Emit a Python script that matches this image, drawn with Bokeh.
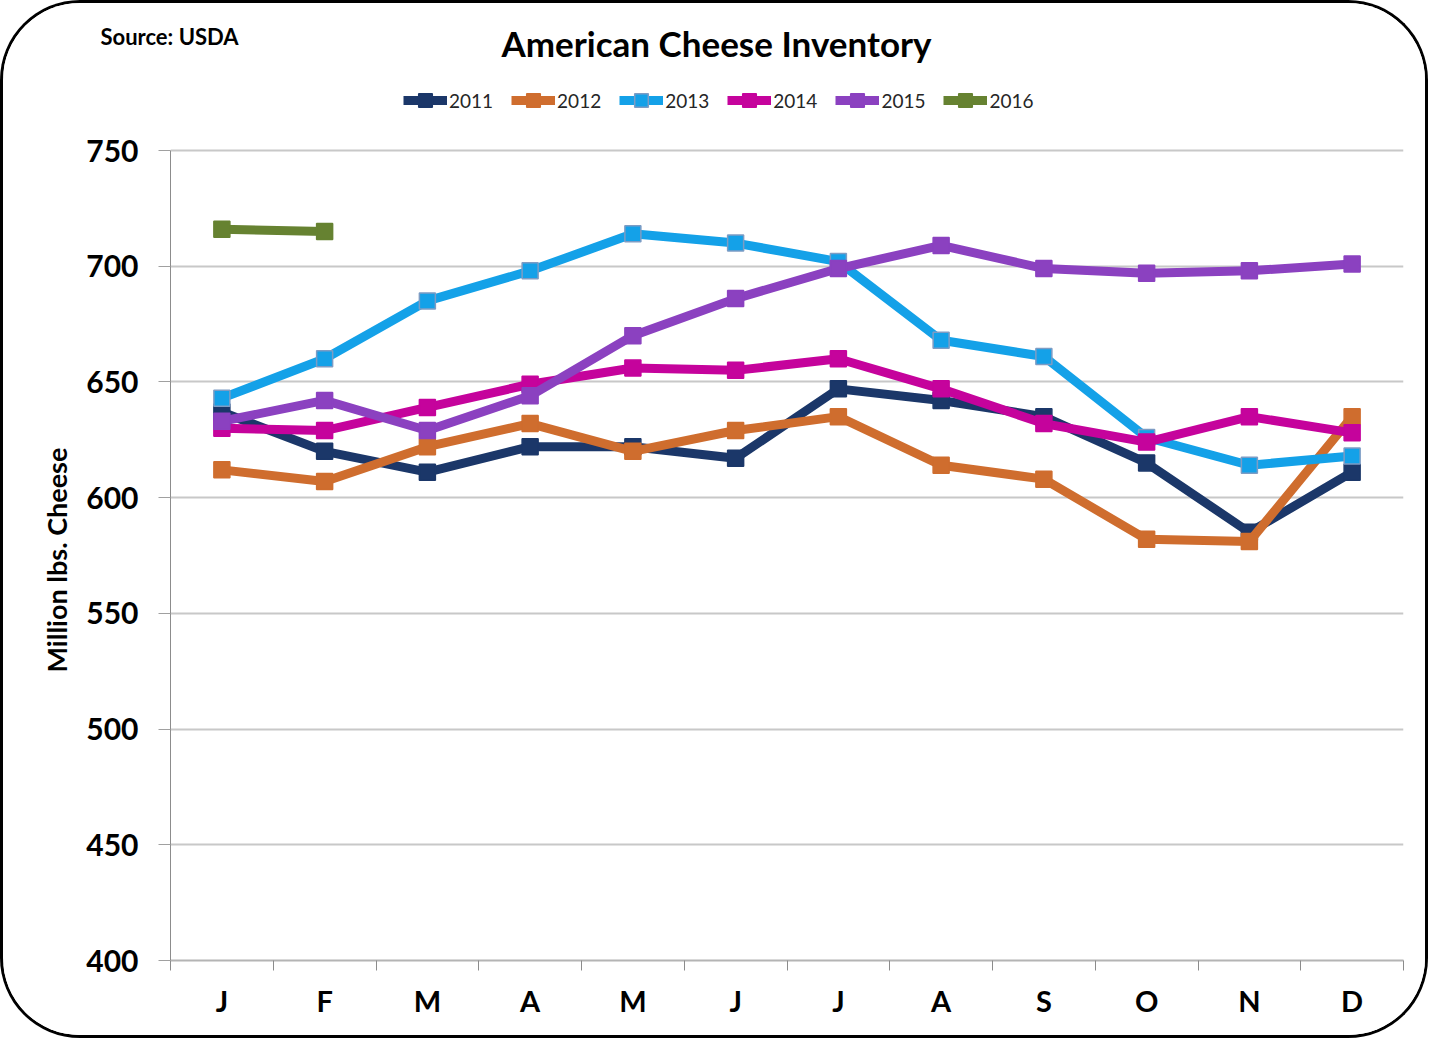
from bokeh.plotting import figure
from bokeh.layouts import column
from bokeh.models import FixedTicker, Label, Legend, LegendItem, Range1d, Title
from bokeh.embed import file_html
from bokeh.resources import INLINE

# months along the x axis (one category per month)
months = ["J", "F", "M", "A", "M", "J", "J", "A", "S", "O", "N", "D"]
x_pos = [i + 0.5 for i in range(12)]

# million lbs. of American cheese in cold storage
inv_2011 = [637, 620, 611, 622, 622, 617, 647, 642, 635, 615, 585, 611]
inv_2012 = [612, 607, 622, 632, 620, 629, 635, 614, 608, 582, 581, 635]
inv_2013 = [643, 660, 685, 698, 714, 710, 702, 668, 661, 626, 614, 618]
inv_2014 = [630, 629, 639, 649, 656, 655, 660, 647, 632, 624, 635, 628]
inv_2015 = [633, 642, 629, 644, 670, 686, 699, 709, 699, 697, 698, 701]
inv_2016 = [716, 715]

years = ["2011", "2012", "2013", "2014", "2015", "2016"]
series = [inv_2011, inv_2012, inv_2013, inv_2014, inv_2015, inv_2016]
colors = ["#1b3769", "#cf6d2e", "#14a1e8", "#c5039c", "#8b41c0", "#668231"]
edges = ["#1b3769", "#cf6d2e", "#7d9cc4", "#c5039c", "#8b41c0", "#668231"]

y_ticks = [400, 450, 500, 550, 600, 650, 700, 750]

FONT = "Lato"
W = 1428
HEAD_H = 85
MAIN_H = 953

# header strip with the source note and the title
head = figure(
    width=W, height=HEAD_H, x_range=Range1d(0, W), y_range=Range1d(HEAD_H, 0),
    x_axis_type=None, y_axis_type=None,
    output_backend="svg", toolbar_location=None, min_border=0,
)
head.frame_align = False
head.outline_line_color = None
head.grid.grid_line_color = None
head.styles = {"border": "3px solid black", "border-bottom": "none",
               "border-radius": "80px 80px 0 0", "overflow": "hidden"}
head.add_layout(Label(x=97, y=33, text="Source: USDA",
                      text_align="left", text_baseline="middle",
                      text_font=FONT, text_font_style="bold", text_font_size="22px",
                      text_color="black"))
head.add_layout(Label(x=713, y=39, text="American Cheese Inventory",
                      text_align="center", text_baseline="middle",
                      text_font=FONT, text_font_style="bold", text_font_size="35px",
                      text_color="black"))

# main chart; the frame reaches up to hold the legend
y_top = 750 + (150 - HEAD_H) * 350 / 810
p = figure(
    width=W, height=MAIN_H,
    x_range=Range1d(0, 12), y_range=Range1d(400, y_top),
    output_backend="svg", toolbar_location=None,
    min_border_left=167, min_border_right=28,
    min_border_top=0, min_border_bottom=78,
)
p.frame_align = False
p.styles = {"border": "3px solid black", "border-top": "none",
            "border-radius": "0 0 80px 80px", "overflow": "hidden"}
p.outline_line_color = None

# x axis: month letters centred, tick marks on the month boundaries
p.xaxis.ticker = FixedTicker(ticks=x_pos, minor_ticks=list(range(13)))
p.xaxis.major_label_overrides = {x: m for x, m in zip(x_pos, months)}
p.xaxis.major_tick_line_color = None
p.xaxis.major_tick_out = 0
p.xaxis.minor_tick_in = 0
p.xaxis.minor_tick_out = 10
p.xaxis.minor_tick_line_color = "#8c8c8c"
p.xaxis.axis_line_color = "#b4b4b4"
p.xaxis.axis_line_width = 2
p.xaxis.major_label_standoff = 12
p.xaxis.major_label_text_font = FONT
p.xaxis.major_label_text_font_style = "bold"
p.xaxis.major_label_text_font_size = "29px"
p.xaxis.major_label_text_color = "black"
p.xgrid.grid_line_color = None

# y axis
p.yaxis.ticker = FixedTicker(ticks=y_ticks)
p.yaxis.bounds = (400, 750)
p.yaxis.minor_tick_line_color = None
p.yaxis.major_tick_in = 0
p.yaxis.major_tick_out = 12
p.yaxis.major_tick_line_color = "#a0a0a0"
p.yaxis.axis_line_color = "#8c8c8c"
p.yaxis.major_label_standoff = 20
p.yaxis.major_label_text_font = FONT
p.yaxis.major_label_text_font_style = "bold"
p.yaxis.major_label_text_font_size = "30px"
p.yaxis.major_label_text_color = "black"
p.ygrid.grid_line_color = "#c8c8c8"
p.ygrid.grid_line_width = 2

# y axis title, placed over the 400-750 span rather than the whole frame
p.add_layout(Title(text="Million lbs. Cheese", align="left", offset=288,
                   standoff=22, text_font=FONT, text_font_style="bold",
                   text_font_size="27px", text_color="black"), "left")

items = []
for year, vals, col, edge in zip(years, series, colors, edges):
    xs = x_pos[:len(vals)]
    ln = p.line(xs, vals, line_color=col, line_width=9)
    mk = p.scatter(xs, vals, marker="square", size=16,
                   fill_color=col, line_color=edge, line_width=1.5)
    items.append(LegendItem(label=year, renderers=[ln, mk]))

legend = Legend(
    items=items, orientation="horizontal", location=(233, 843),
    background_fill_alpha=0, border_line_color=None,
    padding=0, margin=0, spacing=18, label_standoff=2,
    glyph_width=44, glyph_height=34,
    label_text_font=FONT, label_text_font_size="19px", label_text_color="#262626",
)
p.add_layout(legend, "center")

layout = column(head, p, spacing=0)
open("out.html", "w").write(file_html(layout, INLINE))
